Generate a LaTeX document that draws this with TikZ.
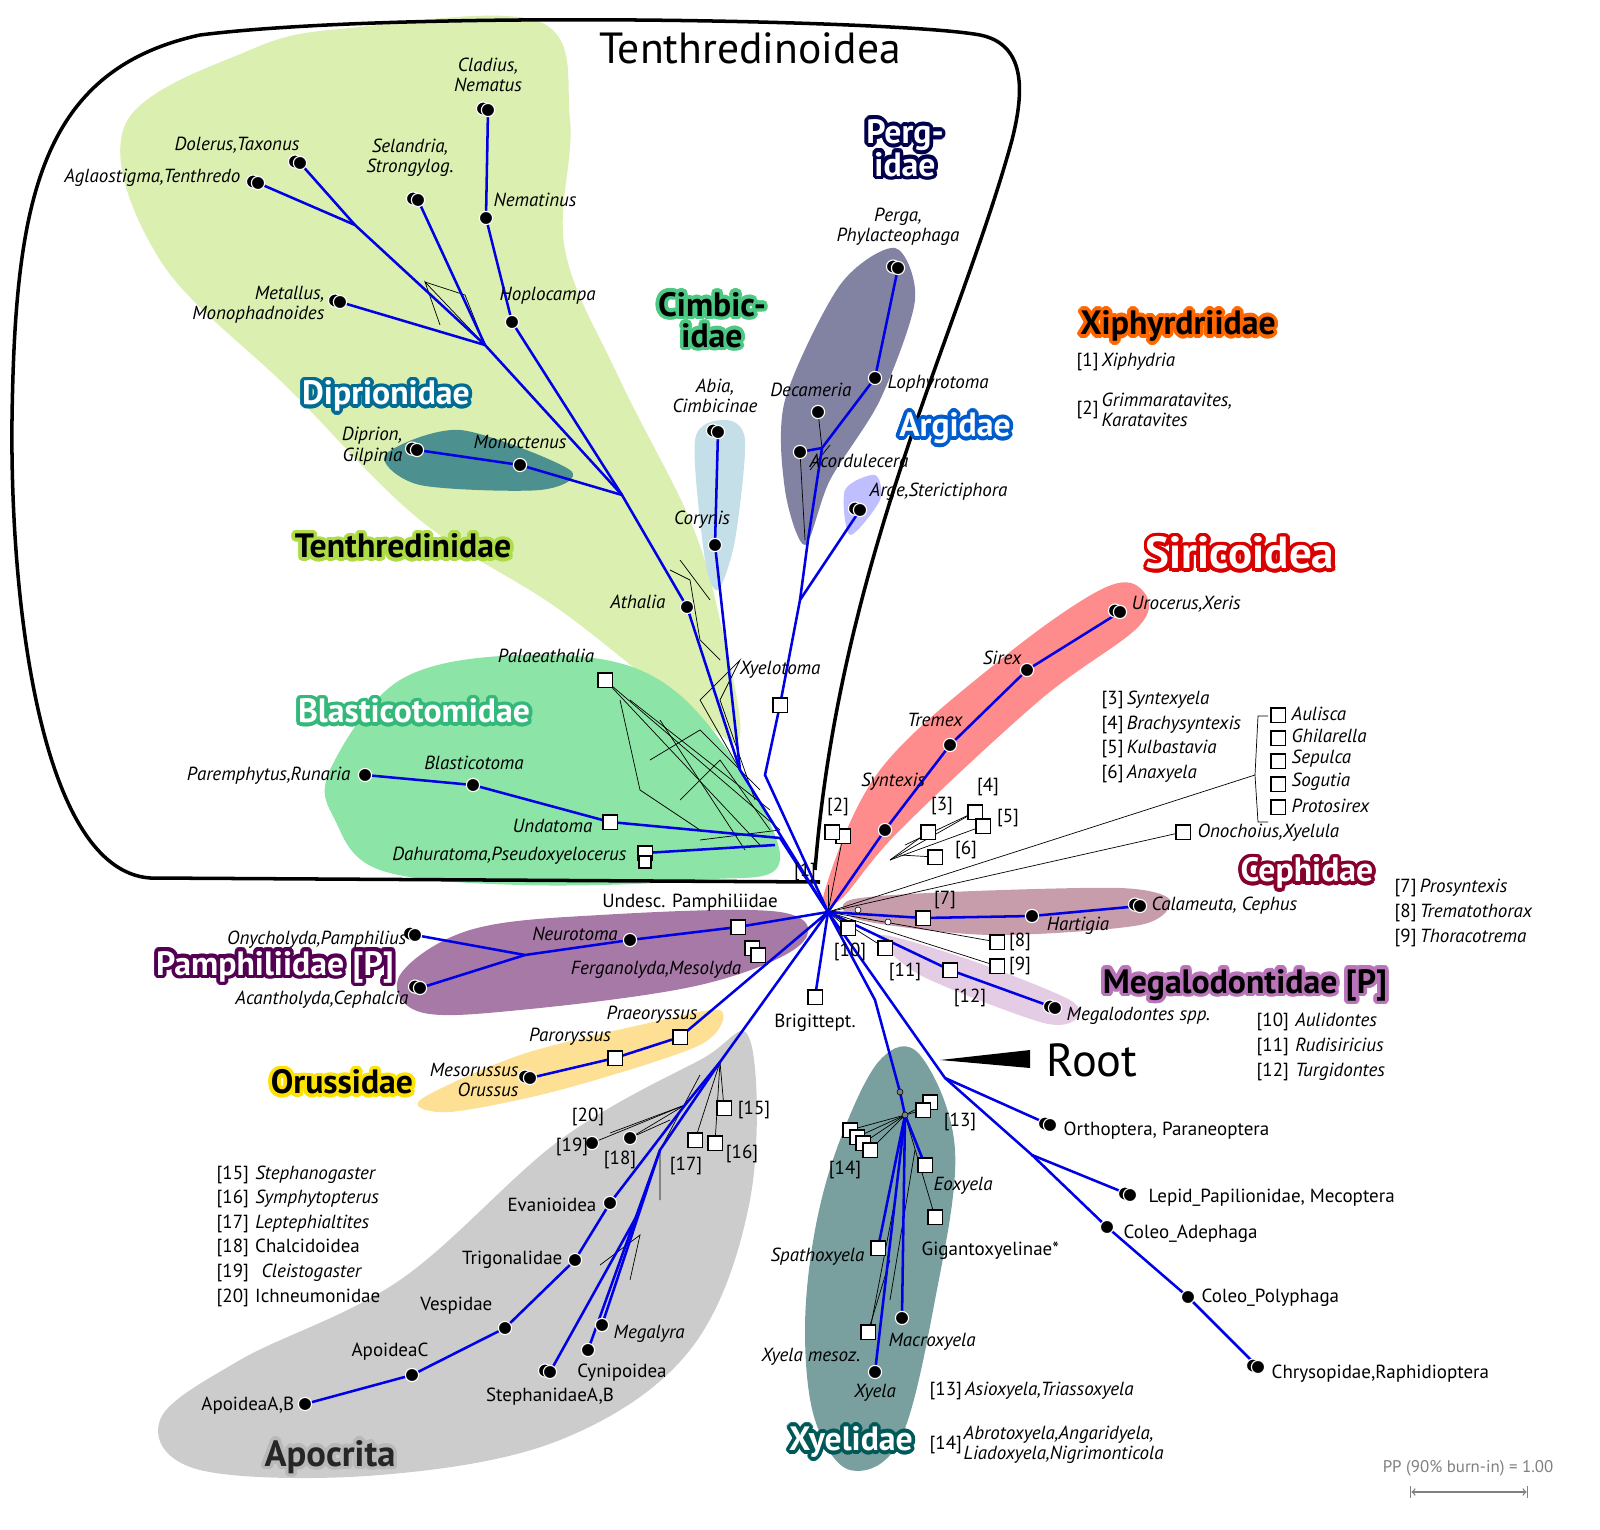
\documentclass[tikz,border=0pt]{standalone}
\usepackage{fontspec}
\setmainfont{PT Sans}
\newcommand\famlab[6]{%
  \foreach \a in {0,20,...,340} \node[fam,#5,text=#3,xshift={cos(\a)*2.6pt},yshift={sin(\a)*2.6pt}] at (#2) {#6};
  \node[fam,#5,text=#4] (#1) at (#2) {#6};}
\begin{document}
\begin{tikzpicture}[x=0.025cm,y=-0.025cm,
  lab/.style={font=\fontsize{13.5}{14.5}\selectfont\itshape, inner sep=1pt},
  ulab/.style={font=\fontsize{13.5}{14.5}\selectfont, inner sep=1pt},
  fam/.style={font=\fontsize{24}{22}\selectfont\bfseries, inner sep=1pt},
  br/.style={blue!90!black, line width=1.8pt},
  th/.style={black, line width=0.5pt},
  dotm/.style={circle, fill=black, draw=white, line width=0.8pt, inner sep=0pt, minimum size=0.33cm},
  sq/.style={rectangle, fill=white, draw=black, line width=1pt, inner sep=0pt, minimum size=0.36cm}]
\useasboundingbox (0,0) rectangle (1600,1530);
% ---------- shaded regions
\fill[yellow!55!green!32] plot[smooth cycle, tension=0.6] coordinates {(125,125) (250,50) (350,28) (540,22) (570,120) (565,250) (620,380) (690,520) (720,620) (740,735) (700,720) (560,610) (420,520) (290,390) (160,260)};
\fill[teal!45!green!45] plot[smooth cycle, tension=0.6] coordinates {(330,770) (400,680) (520,655) (640,670) (720,740) (780,860) (700,880) (520,885) (380,870) (335,820)};
\fill[teal!75!black!70] plot[smooth cycle] coordinates {(385,455) (460,430) (570,470) (540,490) (420,485)};
\fill[cyan!30!teal!25] plot[smooth cycle] coordinates {(695,440) (725,420) (745,440) (735,540) (718,590) (705,560)};
\fill[blue!15!gray!85] plot[smooth cycle] coordinates {(785,400) (840,285) (895,248) (915,300) (880,400) (830,480) (805,545) (785,490)};
\fill[blue!25] plot[smooth cycle] coordinates {(845,490) (875,475) (880,500) (850,535)};
\fill[red!45] plot[smooth cycle, tension=0.6] coordinates {(825,890) (880,770) (1000,660) (1100,590) (1140,588) (1140,625) (1040,700) (900,830) (840,900)};
\fill[purple!40!gray!55] plot[smooth cycle] coordinates {(850,900) (950,892) (1120,888) (1170,900) (1140,925) (990,935) (860,920)};
\fill[violet!20] plot[smooth cycle] coordinates {(880,935) (970,960) (1070,1000) (1075,1020) (1040,1022) (920,975)};
\fill[violet!50!gray!70] plot[smooth cycle, tension=0.6] coordinates {(400,975) (470,930) (600,915) (780,912) (800,945) (700,985) (520,1010) (420,1012)};
\fill[yellow!45!orange!40] plot[smooth cycle] coordinates {(420,1100) (520,1055) (640,1025) (720,1010) (700,1045) (560,1090) (450,1112)};
\fill[gray!40] plot[smooth cycle, tension=0.6] coordinates {(160,1420) (240,1360) (400,1280) (560,1140) (700,1060) (750,1040) (750,1200) (690,1350) (560,1440) (380,1475) (200,1470)};
\fill[teal!40!gray!75] plot[smooth cycle, tension=0.6] coordinates {(815,1230) (840,1140) (880,1060) (920,1055) (955,1150) (935,1300) (900,1440) (850,1470) (815,1420) (805,1330)};
% ---------- Tenthredinoidea outline
\draw[line width=2.5pt] (820,882) -- (150,878) .. controls (40,870) and (10,600) .. (12,420) .. controls (15,200) and (40,70) .. (200,35) .. controls (400,10) and (900,20) .. (980,35) .. controls (1030,45) and (1022,100) .. (1012,140) .. controls (960,330) and (840,560) .. (815,870);
\node[font=\fontsize{31}{32}\selectfont] (tt) at (750,48) {Tenthredinoidea};
% ---------- coordinates
\coordinate (R) at (828,912);
\coordinate (t0) at (765,775); \coordinate (xyt) at (780,705); \coordinate (t1) at (800,600);
\coordinate (arg) at (860,510); \coordinate (t2) at (808,540); \coordinate (acd) at (800,452);
\coordinate (dec) at (818,412); \coordinate (t3) at (822,448); \coordinate (lop) at (875,378); \coordinate (per) at (898,268);
\coordinate (tm) at (740,770); \coordinate (ath) at (687,607); \coordinate (tn1) at (622,495);
\coordinate (mon) at (520,465); \coordinate (dip) at (417,450);
\coordinate (tn2) at (485,345); \coordinate (met) at (340,302); \coordinate (tn3) at (355,225);
\coordinate (agl) at (258,183); \coordinate (dol) at (300,163); \coordinate (sel) at (418,200);
\coordinate (hop) at (512,322); \coordinate (nem) at (486,218); \coordinate (cla) at (488,110);
\coordinate (cor) at (715,545); \coordinate (abi) at (718,432);
\coordinate (b0) at (780,838); \coordinate (bla) at (473,785); \coordinate (par) at (365,775);
\coordinate (und) at (610,822); \coordinate (dah) at (645,853); \coordinate (pal) at (605,680);
\coordinate (syn) at (885,830); \coordinate (tre) at (950,745); \coordinate (sir) at (1027,670); \coordinate (uro) at (1120,612);
\coordinate (s3) at (928,832); \coordinate (s4) at (975,812); \coordinate (s5) at (983,826); \coordinate (s6) at (935,857);
\coordinate (s2) at (843,836);
\coordinate (aul) at (1255,775); \coordinate (ono) at (1183,832);
\coordinate (c7) at (923,918); \coordinate (har) at (1032,916); \coordinate (cal) at (1140,906);
\coordinate (c8) at (997,942); \coordinate (c9) at (997,966); \coordinate (c12) at (950,970); \coordinate (meg) at (1055,1008);
\coordinate (c11) at (885,948); \coordinate (c10) at (848,928); \coordinate (c1) at (828,885);
\coordinate (usp) at (738,927); \coordinate (neu) at (630,940); \coordinate (p1) at (525,955);
\coordinate (ony) at (415,935); \coordinate (aca) at (420,988); \coordinate (fer) at (752,948); \coordinate (fer2) at (758,955);
\coordinate (bri) at (815,997);
\coordinate (pra) at (680,1037); \coordinate (pay) at (615,1058); \coordinate (mes) at (530,1078);
\coordinate (a0) at (720,1062); \coordinate (a1) at (685,1105); \coordinate (eva) at (610,1203); \coordinate (tri) at (575,1260);
\coordinate (ves) at (505,1328); \coordinate (apc) at (412,1375); \coordinate (apa) at (305,1404);
\coordinate (a2) at (660,1150); \coordinate (mga) at (602,1325); \coordinate (cyn) at (588,1350); \coordinate (ste) at (550,1372);
\coordinate (q15) at (724,1108); \coordinate (q16) at (715,1143); \coordinate (q17) at (695,1140);
\coordinate (q19) at (592,1143); \coordinate (q20) at (610,1133); \coordinate (q18) at (630,1138);
\coordinate (o1) at (945,1078); \coordinate (ort) at (1050,1125); \coordinate (o2) at (1032,1155);
\coordinate (lep) at (1130,1195); \coordinate (ade) at (1107,1227); \coordinate (pol) at (1188,1297); \coordinate (chr) at (1258,1367);
\coordinate (x0) at (875,1000); \coordinate (x1) at (900,1092); \coordinate (x2) at (905,1115);
\coordinate (xye) at (875,1372); \coordinate (eox) at (925,1165); \coordinate (gig) at (935,1217);
\coordinate (spa) at (878,1248); \coordinate (mac) at (902,1318); \coordinate (xme) at (868,1332);
\coordinate (q13a) at (930,1102); \coordinate (q13b) at (923,1110);
\coordinate (q14a) at (850,1130); \coordinate (q14b) at (857,1137); \coordinate (q14c) at (863,1143); \coordinate (q14d) at (870,1150);
% ---------- thin black lines
\draw[th] (R) -- (aul); \draw[th] (R) -- (ono); \draw[th] (R) -- (c8); \draw[th] (R) -- (c9);
\draw[th] (R) -- (c11); \draw[th] (R) -- (c10); \draw[th] (R) -- (s2); \draw[th] (R) -- (c1);
\draw[th] (890,860) -- (s4); \draw[th] (890,860) -- (s5); \draw[th] (890,860) -- (s3); \draw[th] (900,855) -- (s6); \draw[th] (905,845) -- (s4);
\draw[th] (pal) -- (780,830); \draw[th] (pal) -- (760,845); \draw[th] (630,700) -- (770,810); \draw[th] (660,720) -- (745,850);
\draw[th] (620,700) -- (640,790) -- (700,830); \draw[th] (650,760) -- (700,730) -- (760,790); \draw[th] (680,800) -- (720,760) -- (770,830);
\draw[th] (700,840) -- (780,830); \draw[th] (tm) -- (700,700) -- (740,660) -- (720,700) -- (755,800);
\draw[th] (670,570) -- (690,580) -- (700,640) -- (720,660); \draw[th] (680,560) -- (710,600);
\draw[th] (tn2) -- (425,282) -- (440,325); \draw[th] (425,282) -- (465,295) -- (tn2);
\draw[th] (acd) -- (805,540); \draw[th] (t3) -- (dec); \draw[th] (810,470) -- (830,445);
\draw[th] (a0) -- (q15); \draw[th] (a0) -- (q16); \draw[th] (a0) -- (q17); \draw[th] (a1) -- (q19); \draw[th] (a1) -- (q20); \draw[th] (a1) -- (q18);
\draw[th] (700,1075) -- (a2) -- (660,1200); \draw[th] (670,1120) -- (q18);
\draw[th] (600,1265) -- (640,1235) -- (630,1280);
\draw[th] (x2) -- (q13a); \draw[th] (x2) -- (q13b); \draw[th] (x2) -- (q14a); \draw[th] (x2) -- (q14b); \draw[th] (x2) -- (q14c); \draw[th] (x2) -- (q14d);
\draw[th] (x2) -- (gig); \draw[th] (890,1260) -- (xme); \draw[th] (895,1200) -- (870,1330); \draw[th] (915,1150) -- (890,1300);
\draw[th] (aul) -- (1258,716) -- (1268,716); \draw[th] (aul) -- (1258,822) -- (1268,822);
% ---------- blue branches
\draw[br] (R) -- (t0) -- (xyt) -- (t1) -- (arg); \draw[br] (t1) -- (t2) -- (t3) -- (lop) -- (per); \draw[br] (t3) -- (acd);
\draw[br] (R) -- (tm) -- (ath) -- (tn1) -- (tn2) -- (met); \draw[br] (tn2) -- (tn3) -- (agl); \draw[br] (tn3) -- (dol);
\draw[br] (tn2) -- (sel); \draw[br] (tn1) -- (hop) -- (nem) -- (cla); \draw[br] (tn1) -- (mon) -- (dip);
\draw[br] (tm) -- (cor) -- (abi); \draw[br] (R) -- (b0) -- (und) -- (bla) -- (par); \draw[br] (dah) -- (775,845);
\draw[br] (R) -- (syn) -- (tre) -- (sir) -- (uro);
\draw[br] (R) -- (c7) -- (har) -- (cal); \draw[br] (R) -- (c12) -- (meg);
\draw[br] (R) -- (usp) -- (neu) -- (p1) -- (ony); \draw[br] (p1) -- (aca);
\draw[br] (R) -- (bri);
\draw[br] (R) -- (pra) -- (pay) -- (mes);
\draw[br] (R) -- (a0) -- (a1) -- (eva) -- (tri) -- (ves) -- (apc) -- (apa);
\draw[br] (a0) -- (a2) -- (mga); \draw[br] (a2) -- (cyn); \draw[br] (640,1210) -- (ste);
\draw[br] (R) -- (o1) -- (ort); \draw[br] (o1) -- (o2) -- (lep); \draw[br] (o2) -- (ade) -- (pol) -- (chr);
\draw[br] (R) -- (x0) -- (x1) -- (x2) -- (xye); \draw[br] (x2) -- (eox); \draw[br] (x2) -- (spa); \draw[br] (x2) -- (mac);
% ---------- markers (crescent shadows for multi-taxon tips)
\foreach \c in {agl,dol,sel,cla,met,dip,per,abi,arg,uro,cal,meg,ony,aca,mes,ste,ort,lep,chr}
  \node[dotm,xshift=-3.5pt,yshift=1pt] at (\c) {};
\foreach \c in {agl,dol,sel,cla,nem,hop,met,dip,mon,ath,cor,abi,per,lop,dec,acd,arg,par,bla,uro,sir,tre,syn,har,cal,meg,neu,ony,aca,mes,eva,tri,ves,apc,apa,mga,cyn,ste,q19,q18,ort,lep,ade,pol,chr,mac,xye}
  \node[dotm] (m\c) at (\c) {};
\foreach \c in {xyt,pal,und,dah,s2,s3,s4,s5,s6,c7,c8,c9,c10,c11,c12,usp,fer,fer2,bri,pra,pay,q15,q16,q17,q13a,q13b,q14a,q14b,q14c,q14d,eox,gig,spa,xme}
  \node[sq] (m\c) at (\c) {};
\node[sq] (ms2b) at (832,832) {};
\node[sq] (maul) at (1278,715) {}; \node[sq] (mghi) at (1278,738) {}; \node[sq] (msep) at (1278,761) {};
\node[sq] (msog) at (1278,784) {}; \node[sq] (mpro) at (1278,807) {}; \node[sq] (mono) at (ono) {};
\node[sq,minimum size=0.3cm] (mdah2) at (645,862) {};
\node[circle,draw,fill=white,inner sep=0pt,minimum size=0.15cm] (k1) at (858,910) {};
\node[circle,draw,fill=white,inner sep=0pt,minimum size=0.15cm] (k2) at (888,922) {};
\node[circle,draw,fill=gray,inner sep=0pt,minimum size=0.15cm] (k3) at (900,1092) {};
\node[circle,draw,fill=gray,inner sep=0pt,minimum size=0.15cm] (k4) at (905,1115) {};
% ---------- taxon labels
\node[lab,anchor=east] (l1) at (242,178) {Aglaostigma,Tenthredo};
\node[lab] (l2) at (237,145) {Dolerus,Taxonus};
\node[lab,align=center] (l3) at (410,158) {Selandria,\\Strongylog.};
\node[lab,align=center] (l4) at (488,75) {Cladius,\\Nematus};
\node[lab,anchor=west] (l5) at (492,200) {Nematinus};
\node[lab,anchor=west] (l6) at (498,296) {Hoplocampa};
\node[lab,align=right,anchor=east] (l7) at (326,305) {Metallus,\\Monophadnoides};
\node[lab,align=right,anchor=east] (l8) at (404,446) {Diprion,\\Gilpinia};
\node[lab] (l9) at (520,442) {Monoctenus};
\node[lab,anchor=east] (l10) at (667,602) {Athalia};
\node[lab] (l11) at (702,520) {Corynis};
\node[lab,align=center] (l12) at (715,396) {Abia,\\Cimbicinae};
\node[lab,align=center] (l13) at (898,227) {Perga,\\Phylacteophaga};
\node[lab,anchor=west] (l14) at (886,384) {Lophyrotoma};
\node[lab,anchor=east] (l15) at (853,390) {Decameria};
\node[lab,anchor=west] (l16) at (808,461) {Acordulecera};
\node[lab,anchor=west] (l17) at (868,492) {Arge,Sterictiphora};
\node[lab] (l18) at (780,670) {Xyelotoma};
\node[lab] (l19) at (546,656) {Palaeathalia};
\node[lab,anchor=east] (l20) at (352,776) {Paremphytus,Runaria};
\node[lab] (l21) at (474,763) {Blasticotoma};
\node[lab,anchor=east] (l22) at (594,826) {Undatoma};
\node[lab,anchor=east] (l23) at (628,856) {Dahuratoma,Pseudoxyelocerus};
\node[lab,anchor=west] (l24) at (1130,604) {Urocerus,Xeris};
\node[lab] (l25) at (1002,658) {Sirex};
\node[lab] (l26) at (935,720) {Tremex};
\node[lab] (l27) at (893,782) {Syntexis};
\node[ulab] (l28) at (838,807) {[2]};
\node[ulab] (l29) at (805,872) {[1]};
\node[ulab] (l30) at (942,806) {[3]}; \node[ulab] (l31) at (988,787) {[4]};
\node[ulab] (l32) at (1008,818) {[5]}; \node[ulab] (l33) at (966,850) {[6]};
\node[lab,anchor=west] (l34) at (1290,714) {Aulisca}; \node[lab,anchor=west] (l35) at (1290,736) {Ghilarella};
\node[lab,anchor=west] (l36) at (1290,759) {Sepulca}; \node[lab,anchor=west] (l37) at (1290,782) {Sogutia};
\node[lab,anchor=west] (l38) at (1290,806) {Protosirex}; \node[lab,anchor=west] (l39) at (1196,833) {Onochoius,Xyelula};
\node[lab,anchor=west] (l40) at (1150,906) {Calameuta, Cephus};
\node[lab] (l41) at (1078,926) {Hartigia};
\node[ulab] (l42) at (945,900) {[7]}; \node[ulab] (l43) at (1020,942) {[8]}; \node[ulab] (l44) at (1020,966) {[9]};
\node[ulab] (l45) at (850,952) {[10]}; \node[ulab] (l46) at (905,972) {[11]}; \node[ulab] (l47) at (970,998) {[12]};
\node[lab,anchor=west] (l48) at (1065,1016) {Megalodontes spp.};
\node[ulab] (l49) at (690,903) {Undesc. Pamphiliidae};
\node[lab] (l50) at (575,934) {Neurotoma};
\node[lab,anchor=east] (l51) at (408,940) {Onycholyda,Pamphilius};
\node[lab] (l52) at (656,970) {Ferganolyda,Mesolyda};
\node[lab,anchor=east] (l53) at (410,1000) {Acantholyda,Cephalcia};
\node[ulab] (l54) at (815,1023) {Brigittept.};
\node[lab] (l55) at (652,1015) {Praeoryssus};
\node[lab] (l56) at (570,1037) {Paroryssus};
\node[lab,align=right,anchor=east] (l57) at (520,1080) {Mesorussus\\Orussus};
\node[ulab] (l58) at (754,1110) {[15]}; \node[ulab] (l59) at (588,1117) {[20]};
\node[ulab] (l60) at (572,1147) {[19]}; \node[ulab] (l61) at (620,1160) {[18]};
\node[ulab] (l62) at (686,1166) {[17]}; \node[ulab] (l63) at (742,1154) {[16]};
\node[ulab,anchor=east] (l64) at (598,1205) {Evanioidea};
\node[ulab,anchor=east] (l65) at (564,1260) {Trigonalidae};
\node[ulab,anchor=east] (l66) at (494,1306) {Vespidae};
\node[ulab] (l67) at (390,1352) {ApoideaC};
\node[ulab,anchor=east] (l68) at (296,1406) {ApoideaA,B};
\node[lab,anchor=west] (l69) at (612,1334) {Megalyra};
\node[ulab] (l70) at (622,1373) {Cynipoidea};
\node[ulab] (l71) at (550,1397) {StephanidaeA,B};
\node[ulab,anchor=west] (l72) at (1062,1131) {Orthoptera, Paraneoptera};
\node[ulab,anchor=west] (l73) at (1147,1198) {Lepid\_Papilionidae, Mecoptera};
\node[ulab,anchor=west] (l74) at (1122,1234) {Coleo\_Adephaga};
\node[ulab,anchor=west] (l75) at (1200,1298) {Coleo\_Polyphaga};
\node[ulab,anchor=west] (l76) at (1270,1374) {Chrysopidae,Raphidioptera};
\node[ulab] (l77) at (960,1122) {[13]}; \node[ulab] (l78) at (845,1170) {[14]};
\node[lab,anchor=west] (l79) at (932,1186) {Eoxyela};
\node[ulab,anchor=west] (l80) at (920,1251) {Gigantoxyelinae*};
\node[lab,anchor=east] (l81) at (866,1257) {Spathoxyela};
\node[lab] (l82) at (932,1342) {Macroxyela};
\node[lab,anchor=east] (l83) at (862,1357) {Xyela mesoz.};
\node[lab] (l84) at (875,1393) {Xyela};
\node[ulab,font=\fontsize{33}{35}\selectfont] (root) at (1092,1060) {Root};
\fill (940,1060) -- (1030,1050) -- (1030,1068) -- cycle;
% ---------- legends
\node[ulab,anchor=west] (g1) at (1075,362) {[1]\,\textit{Xiphydria}};
\node[ulab,anchor=west] (g2) at (1075,410) {[2]};
\node[lab,align=left,anchor=west] (g2b) at (1100,410) {Grimmaratavites,\\Karatavites};
\node[ulab,align=left,anchor=west] (g3) at (1100,737) {[3]\,\textit{Syntexyela}\\[3pt][4]\,\textit{Brachysyntexis}\\[3pt][5]\,\textit{Kulbastavia}\\[3pt][6]\,\textit{Anaxyela}};
\node[ulab,align=left,anchor=west] (g7) at (1393,913) {[7]\,\textit{Prosyntexis}\\[3pt][8]\,\textit{Trematothorax}\\[3pt][9]\,\textit{Thoracotrema}};
\node[ulab,align=left,anchor=west] (g10) at (1255,1047) {[10]\,\,\textit{Aulidontes}\\[3pt][11]\,\,\textit{Rudisiricius}\\[3pt][12]\,\,\textit{Turgidontes}};
\node[ulab,align=left,anchor=west] (g15) at (215,1236) {[15]\,\,\textit{Stephanogaster}\\[3pt][16]\,\,\textit{Symphytopterus}\\[3pt][17]\,\,\textit{Leptephialtites}\\[3pt][18]\,\,Chalcidoidea\\[3pt][19]\,\,\,\,\textit{Cleistogaster}\\[3pt][20]\,\,Ichneumonidae};
\node[ulab,anchor=west] (g13) at (928,1391) {[13]\,\textit{Asioxyela,Triassoxyela}};
\node[ulab,anchor=west] (g14) at (928,1445) {[14]};
\node[lab,align=left,anchor=west] (g14b) at (962,1445) {Abrotoxyela,Angaridyela,\\Liadoxyela,Nigrimonticola};
% ---------- family labels (haloed)
\famlab{f1}{1178,326}{orange!80!red}{black}{}{Xiphyrdriidae}
\famlab{f2}{905,148}{blue!30!black}{white}{align=center}{Perg-\\idae}
\famlab{f3}{712,320}{teal!60!green!70}{black}{align=center}{Cimbic-\\idae}
\famlab{f4}{955,428}{blue!55!cyan!80!black}{white}{}{Argidae}
\famlab{f5}{386,396}{teal!85!blue}{white}{}{Diprionidae}
\famlab{f6}{403,546}{yellow!60!green!80}{black}{}{Tenthredinidae}
\famlab{f7}{414,711}{teal!70!green!80}{white}{}{Blasticotomidae}
\famlab{f8}{1240,553}{red!85!black}{white}{font=\fontsize{32}{32}\selectfont\bfseries}{Siricoidea}
\famlab{f9}{1307,873}{purple!70!black}{white}{}{Cephidae}
\famlab{f10}{1245,985}{violet!55}{black}{}{Megalodontidae [P]}
\famlab{f11}{275,967}{violet!65!black}{white}{}{Pamphiliidae [P]}
\famlab{f12}{342,1082}{yellow!85!orange}{black}{}{Orussidae}
\famlab{f13}{330,1457}{gray!55}{black!85}{font=\fontsize{26}{27}\selectfont\bfseries}{Apocrita}
\famlab{f14}{851,1442}{teal!70!black}{white}{}{Xyelidae}
% ---------- scale
\node[ulab,text=gray,font=\fontsize{12}{13}\selectfont] (pp) at (1468,1468) {PP (90\% burn-in) = 1.00};
\draw[gray,line width=1pt,|<->|] (1410,1492) -- (1528,1492);
\end{tikzpicture}
\end{document}
